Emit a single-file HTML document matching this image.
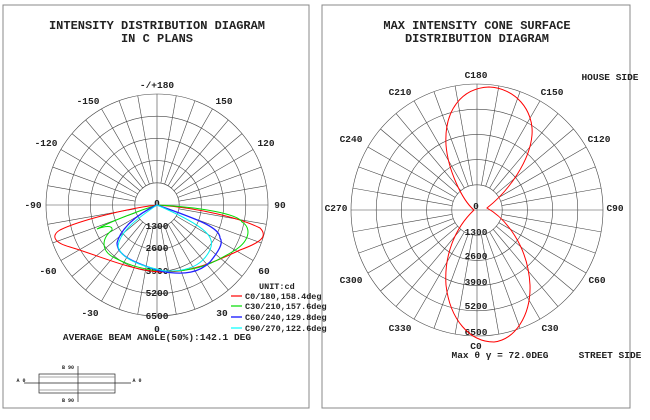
<!DOCTYPE html>
<html><head><meta charset="utf-8"><style>
body{margin:0;background:#fff;width:650px;height:415px;overflow:hidden}
svg text{font-family:"Liberation Mono",monospace;font-weight:bold;fill:#222}
</style></head><body>
<svg width="650" height="415" viewBox="0 0 650 415" xmlns="http://www.w3.org/2000/svg">
<rect x="0" y="0" width="650" height="415" fill="#fff"/>
<rect x="3" y="5" width="306" height="403" fill="none" stroke="#888" stroke-width="1"/>
<rect x="322" y="5" width="308" height="403" fill="none" stroke="#888" stroke-width="1"/>
<g font-size="12" text-anchor="middle">
<text x="157" y="29">INTENSITY DISTRIBUTION DIAGRAM</text>
<text x="157" y="42">IN C PLANS</text>
<text x="477" y="29">MAX INTENSITY CONE SURFACE</text>
<text x="477" y="42">DISTRIBUTION DIAGRAM</text>
</g>
<g transform="translate(157,205)" stroke="#444" stroke-width="0.6" fill="none">
<circle r="44.4"/><circle r="66.6"/><circle r="88.8"/><circle r="111"/>
<line x1="-111" x2="111" transform="rotate(10)"/><line x1="-111" x2="111" transform="rotate(20)"/>
<line x1="-111" x2="111" transform="rotate(30)"/><line x1="-111" x2="111" transform="rotate(40)"/>
<line x1="-111" x2="111" transform="rotate(50)"/><line x1="-111" x2="111" transform="rotate(60)"/>
<line x1="-111" x2="111" transform="rotate(70)"/><line x1="-111" x2="111" transform="rotate(80)"/>
<line x1="-111" x2="111" transform="rotate(100)"/><line x1="-111" x2="111" transform="rotate(110)"/>
<line x1="-111" x2="111" transform="rotate(120)"/><line x1="-111" x2="111" transform="rotate(130)"/>
<line x1="-111" x2="111" transform="rotate(140)"/><line x1="-111" x2="111" transform="rotate(150)"/>
<line x1="-111" x2="111" transform="rotate(160)"/><line x1="-111" x2="111" transform="rotate(170)"/>
<circle r="22.2" fill="#fff"/>
<line x1="-111" x2="111"/><line y1="-111" y2="111"/>
</g>
<g transform="translate(477,210)" stroke="#444" stroke-width="0.6" fill="none">
<circle r="50.4"/><circle r="75.6"/><circle r="100.8"/><circle r="126"/>
<line x1="-126" x2="126" transform="rotate(10)"/><line x1="-126" x2="126" transform="rotate(20)"/>
<line x1="-126" x2="126" transform="rotate(30)"/><line x1="-126" x2="126" transform="rotate(40)"/>
<line x1="-126" x2="126" transform="rotate(50)"/><line x1="-126" x2="126" transform="rotate(60)"/>
<line x1="-126" x2="126" transform="rotate(70)"/><line x1="-126" x2="126" transform="rotate(80)"/>
<line x1="-126" x2="126" transform="rotate(100)"/><line x1="-126" x2="126" transform="rotate(110)"/>
<line x1="-126" x2="126" transform="rotate(120)"/><line x1="-126" x2="126" transform="rotate(130)"/>
<line x1="-126" x2="126" transform="rotate(140)"/><line x1="-126" x2="126" transform="rotate(150)"/>
<line x1="-126" x2="126" transform="rotate(160)"/><line x1="-126" x2="126" transform="rotate(170)"/>
<circle r="25.2" fill="#fff"/>
<line x1="-126" x2="126"/><line y1="-126" y2="126"/>
</g>
<g font-size="9.5" text-anchor="middle">
<text x="157" y="88">-/+180</text>
<text x="88" y="104">-150</text>
<text x="224" y="104">150</text>
<text x="46" y="146">-120</text>
<text x="266" y="146">120</text>
<text x="33" y="208">-90</text>
<text x="280" y="208">90</text>
<text x="48" y="274">-60</text>
<text x="264" y="274">60</text>
<text x="90" y="316">-30</text>
<text x="222" y="316">30</text>
<text x="157" y="332">0</text>
<text x="157" y="206">0</text>
<text x="157" y="229">1300</text>
<text x="157" y="251">2600</text>
<text x="157" y="274">3900</text>
<text x="157" y="296">5200</text>
<text x="157" y="319">6500</text>
<text x="157" y="340">AVERAGE BEAM ANGLE(50%):142.1 DEG</text>
</g>
<g font-size="8.5" text-anchor="start">
<text x="259" y="289">UNIT:cd</text>
<text x="245" y="299">C0/180,158.4deg</text>
<text x="245" y="309">C30/210,157.6deg</text>
<text x="245" y="320">C60/240,129.8deg</text>
<text x="245" y="331">C90/270,122.6deg</text>
</g>
<line x1="231" y1="296" x2="242" y2="296" stroke="#f00" stroke-width="1.2"/>
<line x1="231" y1="306" x2="242" y2="306" stroke="#0d0" stroke-width="1.2"/>
<line x1="231" y1="317" x2="242" y2="317" stroke="#33f" stroke-width="1.5"/>
<line x1="231" y1="328" x2="242" y2="328" stroke="#0ff" stroke-width="1.2"/>
<g stroke-width="1" fill="none">
<path stroke="#f00" d="M157,205 C130,208 80,220 60,230 C50,236 55,243 70,247 C100,256 130,270 160,272 C190,273 215,262 240,250 C262,242 268,236 260,228 C240,218 200,208 157,205Z"/>
<path stroke="#0d0" d="M157,205 C135,212 110,222 97,229 C105,226 113,225 112,230 C100,240 102,252 115,258 C130,266 150,272 175,271 C200,270 215,262 232,252 C250,242 252,228 242,222 C238,214 200,207 157,205Z"/>
<path stroke="#22f" stroke-width="1.3" d="M157,205 C135,215 120,230 117,243 C117,256 135,263 160,271 C185,276 200,272 210,262 C218,252 224,243 220,238 C220,228 200,220 157,205Z"/>
<path stroke="#0ee" d="M157,205 C135,220 120,232 118,246 C120,258 140,266 165,271 C195,272 205,260 210,250 C215,238 210,228 157,205Z"/>
</g>
<g stroke="#222" stroke-width="0.7" fill="none">
<rect x="39" y="374" width="76" height="19"/>
<line x1="24" y1="383" x2="131" y2="383"/>
<line x1="78" y1="366" x2="78" y2="402"/>
<line x1="39" y1="377" x2="115" y2="377" stroke="#888"/>
<line x1="39" y1="390" x2="115" y2="390" stroke="#888"/>
</g>
<g font-size="5" text-anchor="middle" style="font-weight:normal">
<text x="21" y="382">A 0</text><text x="137" y="382">A 0</text>
<text x="68" y="369">B 90</text><text x="68" y="402">B 90</text>
</g>
<g font-size="9.5" text-anchor="middle">
<text x="476" y="78">C180</text>
<text x="400" y="95">C210</text>
<text x="552" y="95">C150</text>
<text x="351" y="142">C240</text>
<text x="599" y="142">C120</text>
<text x="336" y="211">C270</text>
<text x="615" y="211">C90</text>
<text x="351" y="283">C300</text>
<text x="597" y="283">C60</text>
<text x="400" y="331">C330</text>
<text x="550" y="331">C30</text>
<text x="476" y="349">C0</text>
<text x="476" y="209">0</text>
<text x="476" y="235">1300</text>
<text x="476" y="259">2600</text>
<text x="476" y="285">3900</text>
<text x="476" y="309">5200</text>
<text x="476" y="335">6500</text>
<text x="610" y="80">HOUSE SIDE</text>
<text x="610" y="358">STREET SIDE</text>
<text x="500" y="358">Max θ γ = 72.0DEG</text>
</g>
<path stroke="#f00" stroke-width="1" fill="none" d="M474,210 C462,200 448,170 446,145 C444,110 462,88 489,87 C515,88 534,110 532,135 C530,160 510,190 487,208 C505,218 528,245 530,285 C531,315 515,340 494,342 C470,342 450,320 446,285 C444,255 455,228 474,210Z"/>
</svg>
</body></html>
